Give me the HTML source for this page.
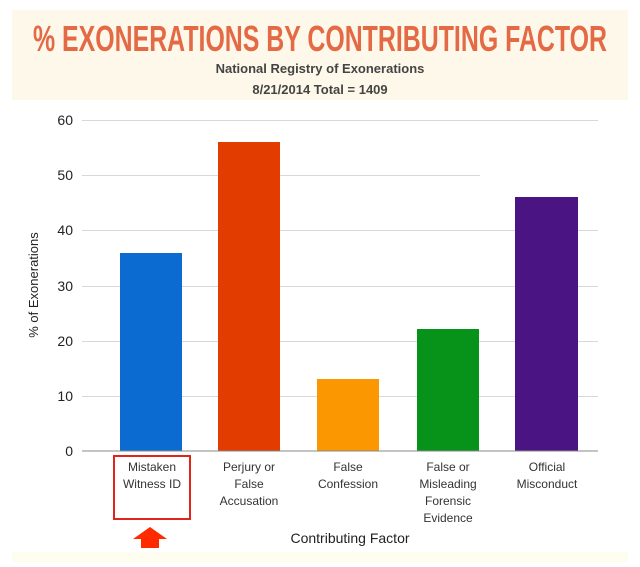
<!DOCTYPE html>
<html><head><style>
body{margin:0;width:640px;height:562px;background:#fff;overflow:hidden;font-family:"Liberation Sans",sans-serif;}
</style></head><body>
<svg width="640" height="562" xmlns="http://www.w3.org/2000/svg">
<rect x="12" y="10" width="616" height="90" fill="#fdf8ea"/>
<rect x="12" y="552" width="616" height="10" fill="#fdfdf0"/>
<text x="320" y="51" text-anchor="middle" font-family="Liberation Sans Narrow, Liberation Sans, sans-serif" font-weight="bold" font-size="36" fill="#e46a45" textLength="574" lengthAdjust="spacingAndGlyphs">% EXONERATIONS BY CONTRIBUTING FACTOR</text>
<text x="320" y="73" text-anchor="middle" font-weight="bold" font-size="13" fill="#444">National Registry of Exonerations</text>
<text x="320" y="94" text-anchor="middle" font-weight="bold" font-size="13" fill="#444">8/21/2014 Total = 1409</text>
<g stroke="#d8d8d8" stroke-width="1">
<line x1="82" x2="598" y1="120.5" y2="120.5"/>
<line x1="82" x2="480" y1="175.5" y2="175.5"/>
<line x1="82" x2="598" y1="230.5" y2="230.5"/>
<line x1="82" x2="598" y1="286.5" y2="286.5"/>
<line x1="82" x2="598" y1="341.5" y2="341.5"/>
<line x1="82" x2="598" y1="396.5" y2="396.5"/>
</g>
<g font-size="14" fill="#222" text-anchor="end">
<text x="73" y="125">60</text><text x="73" y="180">50</text><text x="73" y="235">40</text>
<text x="73" y="291">30</text><text x="73" y="346">20</text><text x="73" y="401">10</text><text x="73" y="456">0</text>
</g>
<rect x="120" y="253" width="62" height="198" fill="#0b6bd0"/>
<rect x="218" y="142" width="62" height="309" fill="#e23c00"/>
<rect x="317" y="379" width="62" height="72" fill="#fb9801"/>
<rect x="417" y="329" width="62" height="122" fill="#07921a"/>
<rect x="515" y="197" width="63" height="254" fill="#4a1482"/>
<line x1="82" x2="598" y1="451" y2="451" stroke="#888" stroke-width="1"/>
<text transform="translate(38,285) rotate(-90)" text-anchor="middle" font-size="13" fill="#222">% of Exonerations</text>
<rect x="114" y="456" width="76" height="63" fill="none" stroke="#e0241c" stroke-width="2"/>
<g font-size="12" fill="#333" text-anchor="middle">
<text x="152" y="471">Mistaken</text><text x="152" y="488">Witness ID</text>
<text x="249" y="471">Perjury or</text><text x="249" y="488">False</text><text x="249" y="505">Accusation</text>
<text x="348" y="471">False</text><text x="348" y="488">Confession</text>
<text x="448" y="471">False or</text><text x="448" y="488">Misleading</text><text x="448" y="505">Forensic</text><text x="448" y="522">Evidence</text>
<text x="547" y="471">Official</text><text x="547" y="488">Misconduct</text>
</g>
<text x="350" y="543" text-anchor="middle" font-size="14" fill="#222">Contributing Factor</text>
<polygon points="150,527 167,539 159,539 159,548 141,548 141,539 133,539" fill="#ff2a00"/>
</svg>
</body></html>
